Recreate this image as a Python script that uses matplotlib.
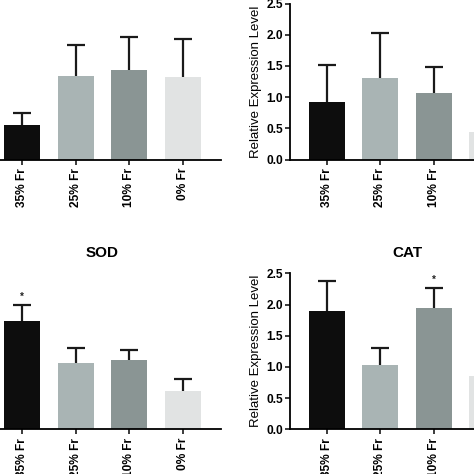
import matplotlib.pyplot as plt

plt.rcParams['font.family'] = ['Liberation Sans', 'DejaVu Sans']

groups = ['35% Fr', '25% Fr', '10% Fr', '0% Fr']
colors = ['#0d0d0d', '#a9b4b4', '#8a9594', '#e1e3e3']

# panel values (relative expression) and upper SD
top_left = [0.55, 1.34, 1.44, 1.33]
top_left_err = [0.19, 0.50, 0.53, 0.61]
top_right = [0.92, 1.30, 1.06, 0.45]
top_right_err = [0.60, 0.73, 0.43, 0.25]
sod = [1.73, 1.07, 1.11, 0.62]
sod_err = [0.27, 0.23, 0.16, 0.19]
cat = [1.89, 1.03, 1.94, 0.85]
cat_err = [0.49, 0.27, 0.33, 0.30]
sod_star = [True, False, False, False]
cat_star = [False, False, True, False]

fig = plt.figure(figsize=(4.74, 4.74), dpi=100)

W = 474.0
def make_ax(x0, ybase, w=236, h=156):
    return fig.add_axes([x0 / W, (W - ybase) / W, w / W, h / W])

panels = [
    (make_ax(-15.5, 159.6), top_left, top_left_err, None, None),
    (make_ax(290, 159.6, 234), top_right, top_right_err, None, None),
    (make_ax(-15.5, 429.3), sod, sod_err, 'SOD', sod_star),
    (make_ax(290, 429.3, 234), cat, cat_err, 'CAT', cat_star),
]

x = range(len(groups))
for ax, vals, errs, title, stars in panels:
    ax.bar(x, vals, width=0.67, color=colors, zorder=2)
    eb = ax.errorbar(x, vals, yerr=[[0] * 4, errs], fmt='none', ecolor='#1a1a1a',
                     elinewidth=1.6, capsize=6.5, capthick=1.6, zorder=1)
    # only the upper cap is shown
    eb[1][0].set_visible(False)
    if stars:
        for i, s in enumerate(stars):
            if s:
                ax.text(i, vals[i] + errs[i] + 0.05, '*', ha='center', va='bottom',
                        fontsize=7, fontweight='bold', color='#222222')
    ax.set_xlim(-0.69, 3.69)
    ax.set_ylim(0, 2.5)
    ax.set_yticks([0, 0.5, 1.0, 1.5, 2.0, 2.5])
    ax.set_yticklabels(['0.0', '0.5', '1.0', '1.5', '2.0', '2.5'])
    ax.set_xticks(list(x))
    ax.set_xticklabels(groups, rotation=90)
    for lab in ax.get_xticklabels() + ax.get_yticklabels():
        lab.set_fontweight('bold')
        lab.set_fontsize(8.6)
    ax.tick_params(direction='out', length=3.6, width=1.2, pad=2.5, color='#1a1a1a')
    ax.tick_params(axis='y', pad=1.5)
    ax.spines['top'].set_visible(False)
    ax.spines['right'].set_visible(False)
    ax.spines['left'].set_linewidth(1.3)
    ax.spines['bottom'].set_linewidth(1.3)
    ax.set_ylabel('Relative Expression Level', fontsize=9.5, labelpad=3)
    if title:
        ax.set_title(title, fontsize=11, fontweight='bold', pad=12)

fig.savefig('out.png', dpi=100)
